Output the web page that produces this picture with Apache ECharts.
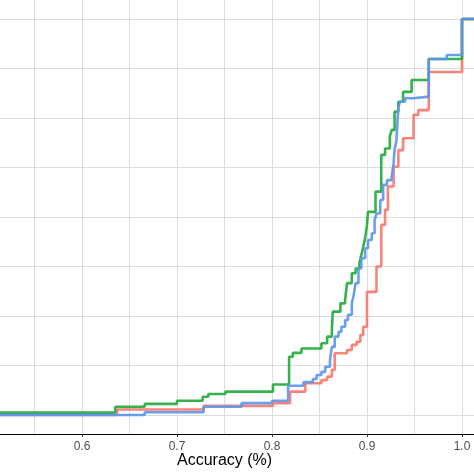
<!DOCTYPE html>
<html>
<head>
<meta charset="utf-8">
<script src="https://cdn.jsdelivr.net/npm/echarts@6/dist/echarts.min.js"></script>
<style>
  html, body { margin: 0; padding: 0; background: #fff; }
  #chart { width: 474px; height: 474px; }
</style>
</head>
<body>
<div id="chart"></div>
<script>
// ecdf steps: x where the curve jumps, y = level after the jump
var redX = [0.45, 0.637, 0.728, 0.801, 0.819, 0.835, 0.852, 0.858, 0.863, 0.866, 0.879, 0.884, 0.889, 0.893, 0.896, 0.900, 0.910, 0.915, 0.919, 0.922, 0.928, 0.933, 0.938, 0.949, 0.954, 0.965, 1.0, 1.1];
var redY = [0, 0.014, 0.023, 0.030, 0.059, 0.080, 0.088, 0.097, 0.114, 0.156, 0.164, 0.177, 0.185, 0.202, 0.223, 0.311, 0.375, 0.480, 0.518, 0.577, 0.627, 0.669, 0.699, 0.758, 0.770, 0.866, 1, 1];

var greenX = [0.45, 0.635, 0.666, 0.700, 0.727, 0.733, 0.751, 0.801, 0.818, 0.822, 0.831, 0.852, 0.858, 0.863, 0.864, 0.872, 0.877, 0.879, 0.884, 0.888, 0.892, 0.894, 0.896, 0.898, 0.900, 0.901, 0.909, 0.915, 0.919, 0.924, 0.926, 0.929, 0.933, 0.938, 0.947, 0.965, 1.0, 1.1];
var greenY = [0.006, 0.021, 0.028, 0.036, 0.046, 0.053, 0.059, 0.077, 0.147, 0.157, 0.168, 0.181, 0.198, 0.215, 0.261, 0.282, 0.292, 0.333, 0.358, 0.370, 0.383, 0.404, 0.425, 0.446, 0.480, 0.513, 0.564, 0.657, 0.673, 0.703, 0.720, 0.766, 0.791, 0.816, 0.846, 0.899, 1, 1];

var blueX = [0.45, 0.666, 0.728, 0.768, 0.800, 0.817, 0.833, 0.843, 0.847, 0.852, 0.856, 0.861, 0.863, 0.866, 0.870, 0.873, 0.877, 0.880, 0.884, 0.886, 0.888, 0.891, 0.894, 0.898, 0.901, 0.905, 0.908, 0.910, 0.914, 0.917, 0.921, 0.926, 0.928, 0.929, 0.931, 0.932, 0.933, 0.935, 0.940, 0.949, 0.965, 0.984, 1.0, 1.1];
var blueY = [0, 0.007, 0.021, 0.030, 0.036, 0.074, 0.083, 0.091, 0.101, 0.109, 0.122, 0.139, 0.172, 0.198, 0.210, 0.223, 0.240, 0.253, 0.282, 0.303, 0.333, 0.370, 0.396, 0.421, 0.442, 0.459, 0.492, 0.509, 0.543, 0.581, 0.593, 0.602, 0.636, 0.669, 0.694, 0.737, 0.779, 0.791, 0.800, 0.804, 0.899, 0.909, 1, 1];

var xLabels = [0.6, 0.7, 0.8, 0.9, 1.0];
var xGrid = [0.55, 0.6, 0.65, 0.7, 0.75, 0.8, 0.85, 0.9, 0.95, 1.0];
var yGrid = [0, 0.125, 0.25, 0.375, 0.5, 0.625, 0.75, 0.875, 1];

function pairs(xs, ys) {
  var d = [];
  for (var i = 0; i < xs.length; i++) {
    d.push([xs[i], ys[i]]);
  }
  return d;
}

function stepSeries(name, color, xs, ys) {
  return {
    name: name,
    type: "line",
    step: "end",
    symbol: "none",
    data: pairs(xs, ys),
    lineStyle: { color: color, width: 2.6, opacity: 0.9 },
    itemStyle: { color: color },
    clip: true,
    animation: false
  };
}

var chart = echarts.init(document.getElementById("chart"));
var gridLine = { color: "#dcdcdc", width: 1 };
// visible range of the cropped panel
var xMin = 0.6 - 82 / 950;
var xMax = 0.6 + 392 / 950;

chart.setOption({
  backgroundColor: "#fff",
  title: {
    text: "Accuracy (%)",
    left: 177,
    top: 453,
    padding: 0,
    textStyle: { fontFamily: "Liberation Sans", fontSize: 16, fontWeight: "normal", color: "#000" }
  },
  grid: { left: 0, right: 0, top: 0, bottom: 40, containLabel: false },
  xAxis: [
    {
      type: "value",
      position: "bottom",
      min: xMin,
      max: xMax,
      axisLine: { show: true, onZero: false, lineStyle: { color: "#000", width: 1 } },
      axisTick: { show: true, length: 3, customValues: xLabels, lineStyle: { color: "#333" } },
      axisLabel: {
        margin: 7,
        customValues: xLabels,
        fontFamily: "Liberation Sans",
        fontSize: 12,
        color: "#4d4d4d",
        formatter: function (v) {
          return v.toFixed(1);
        }
      },
      splitLine: { show: false }
    },
    {
      type: "value",
      position: "bottom",
      min: xMin,
      max: xMax,
      axisLine: { show: false },
      axisTick: { show: false, customValues: xGrid },
      axisLabel: { show: false },
      splitLine: { show: true, lineStyle: gridLine }
    }
  ],
  yAxis: {
    type: "value",
    min: -19 / 396,
    max: 1 + 19 / 396,
    axisLine: { show: false },
    axisTick: { show: false, customValues: yGrid },
    axisLabel: { show: false },
    splitLine: { show: true, lineStyle: gridLine }
  },
  series: [
    stepSeries("red", "#F8766D", redX, redY),
    stepSeries("green", "#1FAA3A", greenX, greenY),
    stepSeries("blue", "#5B95EC", blueX, blueY)
  ]
});
</script>
</body>
</html>
